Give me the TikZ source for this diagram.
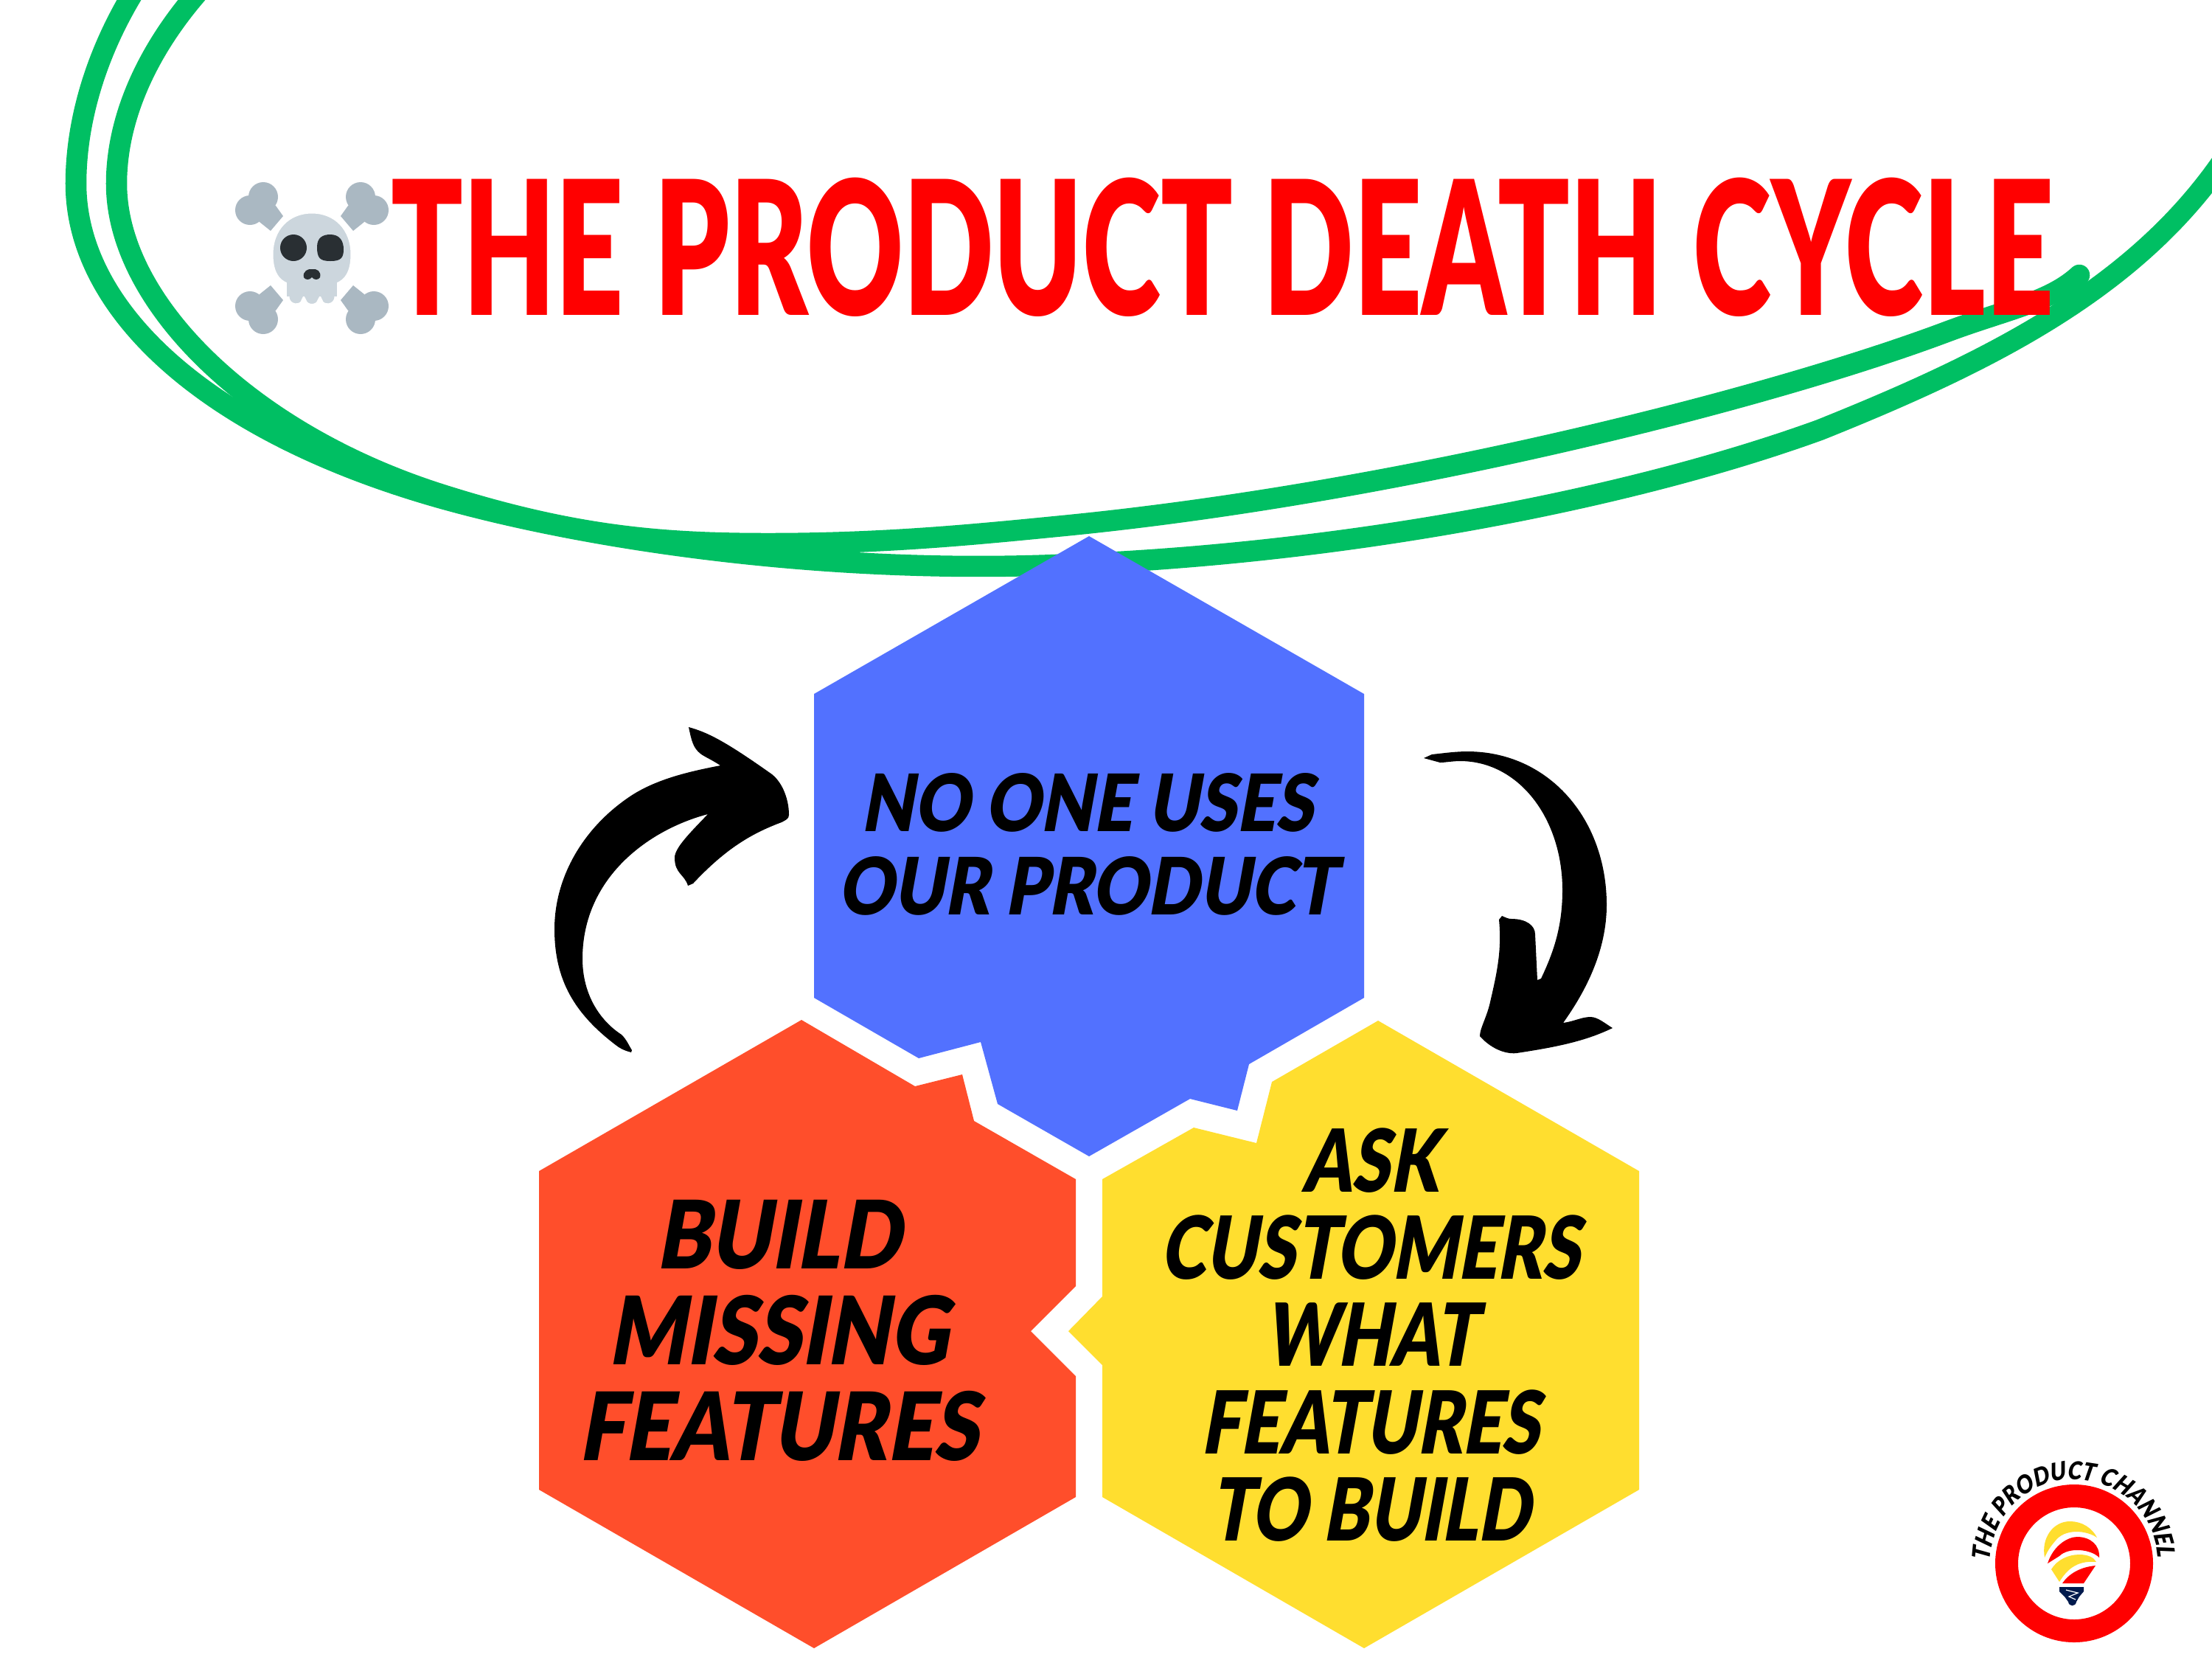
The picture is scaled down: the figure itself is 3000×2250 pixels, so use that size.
\documentclass[tikz,border=0pt]{standalone}
\usepackage{fontspec}
\usetikzlibrary{decorations.text}
\newfontfamily\titlefont[FakeStretch=0.636,WordSpace=1.12]{Lato Black}
\newfontfamily\cardfont[FakeStretch=0.86,FakeSlant=0.18]{Lato Black}
\newfontfamily\askfont[FakeStretch=0.79,FakeSlant=0.18]{Lato Black}
\definecolor{ringgreen}{HTML}{00BF63}
\definecolor{hexblue}{HTML}{5271FF}
\definecolor{hexred}{HTML}{FF4E2B}
\definecolor{hexyellow}{HTML}{FFDE2F}
\definecolor{bonegrey}{HTML}{AAB8C2}
\definecolor{skullgrey}{HTML}{CCD6DD}
\definecolor{skulldark}{HTML}{292F33}
\definecolor{bulbnavy}{HTML}{001A4D}
\tikzset{
  ringline/.style={draw=ringgreen,line width=0.285cm,line cap=round},
  cardtext/.style={inner sep=0pt,align=center,text=black},
  bone/.style={fill=bonegrey},
}
\begin{document}
\begin{tikzpicture}[x=0.01cm,y=-0.01cm]
\path[use as bounding box,fill=white](0,0)rectangle(3000,2250);
\clip(0,0)rectangle(3000,2250);
\draw[ringline](187,-20)..controls(130,70)and(103,165)..(103,249)..controls(103,420)and(280,586)..(600,676)..controls(800,732)and(1100,775)..(1400,767)..controls(1800,756)and(2200,680)..(2468,583)..controls(2700,490)and(2900,390)..(3020,210);
\draw[ringline](277,-20)..controls(200,65)and(158,160)..(158,249)..controls(158,410)and(340,589)..(600,671)..controls(780,728)and(900,737)..(1042,737)..controls(1200,737)and(1320,725)..(1442,713)..controls(1900,668)and(2400,540)..(2640,450)..controls(2720,420)and(2780,410)..(2820,373);
\foreach \sx/\sy in {1/1,-1/1,1/-1,-1/-1}{
\begin{scope}[shift={(423,350)},xscale=\sx,yscale=\sy]
\fill[bone](-66,-83)circle[radius=20];
\fill[bone](-84,-65)circle[radius=20];
\fill[bone](-39,-57)--(-49,-71)--(-66,-83)--(-84,-65)--(-71,-49)--(-56,-37)--cycle;
\end{scope}}
\fill[skullgrey,draw=white,line width=0.07cm](367,345)..controls(367,310)and(390,286)..(423,286)..controls(456,286)and(479,310)..(479,345)..controls(479,370)and(470,382)..(457,387)--(457,402)..controls(457,418)and(436,418)..(434,408)..controls(431,418)and(415,418)..(412,408)..controls(410,418)and(389,418)..(389,402)--(389,387)..controls(376,382)and(367,370)..(367,345)--cycle;
\fill[skullgrey](389,380)--(457,380)--(457,402)--(389,402)--cycle;
\fill[skulldark](398,336)ellipse[x radius=18,y radius=18];
\fill[skulldark](430,335)..controls(430,322)and(438,318)..(448,318)..controls(460,318)and(466,326)..(466,338)..controls(466,350)and(462,354)..(448,354)..controls(434,354)and(430,350)..(430,335)--cycle;
\fill[skulldark](412,376)..controls(410,368)and(418,364)..(423,365)..controls(430,364)and(436,368)..(434,376)..controls(432,380)and(426,380)..(423,376)..controls(420,380)and(414,380)..(412,376)--cycle;
\node[cardtext,text=red,anchor=west,font=\titlefont\fontsize{72}{72}\selectfont](titleline)at(530,335){THE PRODUCT DEATH CYCLE};
\fill[hexblue](1477,727)--(1850,941)--(1850,1353)--(1694,1443)--(1678,1506)--(1614,1490)--(1477,1568)--(1353,1497)--(1330,1413)--(1246,1435)--(1104,1353)--(1104,941)--cycle;
\fill[hexred](1087,1383)--(1241,1473)--(1305,1457)--(1321,1520)--(1459,1599)--(1459,1744)--(1398,1805)--(1459,1866)--(1459,2030)--(1104,2235)--(731,2020)--(731,1588)--cycle;
\fill[hexyellow](1869,1384)--(2223,1588)--(2223,2020)--(1850,2235)--(1495,2030)--(1495,1851)--(1449,1805)--(1495,1758)--(1495,1599)--(1619,1529)--(1704,1550)--(1725,1467)--cycle;
\node[cardtext,font=\cardfont\fontsize{30.5}{32.1}\selectfont](usesbox)at(1474,1145){NO ONE USES\\OUR PRODUCT};
\node[cardtext,font=\cardfont\fontsize{36.4}{37}\selectfont](buildbox)at(1055,1804){BUILD\\MISSING\\FEATURES};
\node[cardtext,font=\askfont\fontsize{33.5}{33.6}\selectfont](askbox)at(1858,1810){ASK\\CUSTOMERS\\WHAT\\FEATURES\\TO BUILD};
\fill[black](857,1424)--(856,1427)..controls(845,1424)and(840,1421)..(835,1417)..controls(780,1375)and(752,1330)..(752,1260)..controls(752,1190)and(790,1125)..(850,1083)..controls(885,1058)and(930,1047)..(977,1038)..controls(965,1030)and(955,1026)..(950,1022)..controls(940,1014)and(938,1005)..(934,986)..controls(960,993)and(985,1006)..(1047,1050)..controls(1062,1062)and(1070,1085)..(1070,1105)..controls(1070,1110)and(1066,1112)..(1060,1115)..controls(1020,1130)and(985,1150)..(940,1198)--(933,1201)..controls(928,1185)and(915,1185)..(915,1163)..controls(915,1150)and(935,1130)..(960,1104)..controls(880,1125)and(790,1190)..(790,1300)..controls(790,1350)and(815,1385)..(843,1403)..controls(850,1410)and(852,1416)..(857,1424)--cycle;
\fill[black](1931,1028)--(1942,1023)..controls(1960,1021)and(1975,1019)..(1990,1019)..controls(2100,1019)and(2179,1110)..(2179,1227)..controls(2179,1290)and(2150,1345)..(2120,1387)..controls(2135,1385)and(2145,1379)..(2157,1379)..controls(2167,1379)and(2177,1388)..(2187,1394)..controls(2150,1412)and(2110,1420)..(2057,1428)..controls(2040,1430)and(2020,1420)..(2007,1405)..controls(2007,1395)and(2015,1382)..(2020,1363)..controls(2030,1320)and(2037,1290)..(2033,1247)--(2037,1242)..controls(2042,1244)and(2045,1246)..(2050,1246)..controls(2070,1246)and(2082,1255)..(2082,1267)--(2085,1329)--(2090,1327)..controls(2105,1295)and(2119,1260)..(2119,1207)..controls(2119,1110)and(2060,1032)..(1980,1032)..controls(1970,1032)and(1960,1034)..(1953,1034)--cycle;
\draw[draw=red,fill=white,line width=0.31cm](2813,2120)circle[radius=91.5];
\fill[hexyellow](2773,2112)..controls(2768,2085)and(2785,2063)..(2807,2063)..controls(2825,2063)and(2838,2073)..(2844,2085)..controls(2830,2075)and(2800,2072)..(2787,2090)..controls(2780,2098)and(2776,2105)..(2773,2112)--cycle;
\fill[red](2777,2120)..controls(2785,2095)and(2805,2084)..(2817,2084)..controls(2835,2084)and(2848,2095)..(2847,2112)..controls(2835,2100)and(2805,2098)..(2793,2110)--cycle;
\fill[hexyellow](2782,2128)..controls(2790,2115)and(2805,2108)..(2820,2108)..controls(2832,2108)and(2840,2112)..(2843,2118)..controls(2820,2116)and(2805,2125)..(2793,2145)--cycle;
\fill[red](2797,2147)..controls(2805,2135)and(2820,2125)..(2842,2123)--(2826,2147)--cycle;
\fill[bulbnavy](2793,2152)--(2826,2152)--(2826,2158)--(2820,2165)--(2816,2172)..controls(2815,2179)and(2806,2179)..(2805,2172)--(2800,2165)--(2793,2158)--cycle;
\draw[white,line width=0.012cm](2802,2156)--(2818,2160)--(2806,2165)--(2815,2169);
\path[decorate,decoration={text along path,text align=center,text={|\cardfont\fontsize{9.5}{9.5}\selectfont|THE PRODUCT CHANNEL}}](2813,2120)++(-178:114)arc(-178:-5:114);
\end{tikzpicture}
\end{document}
